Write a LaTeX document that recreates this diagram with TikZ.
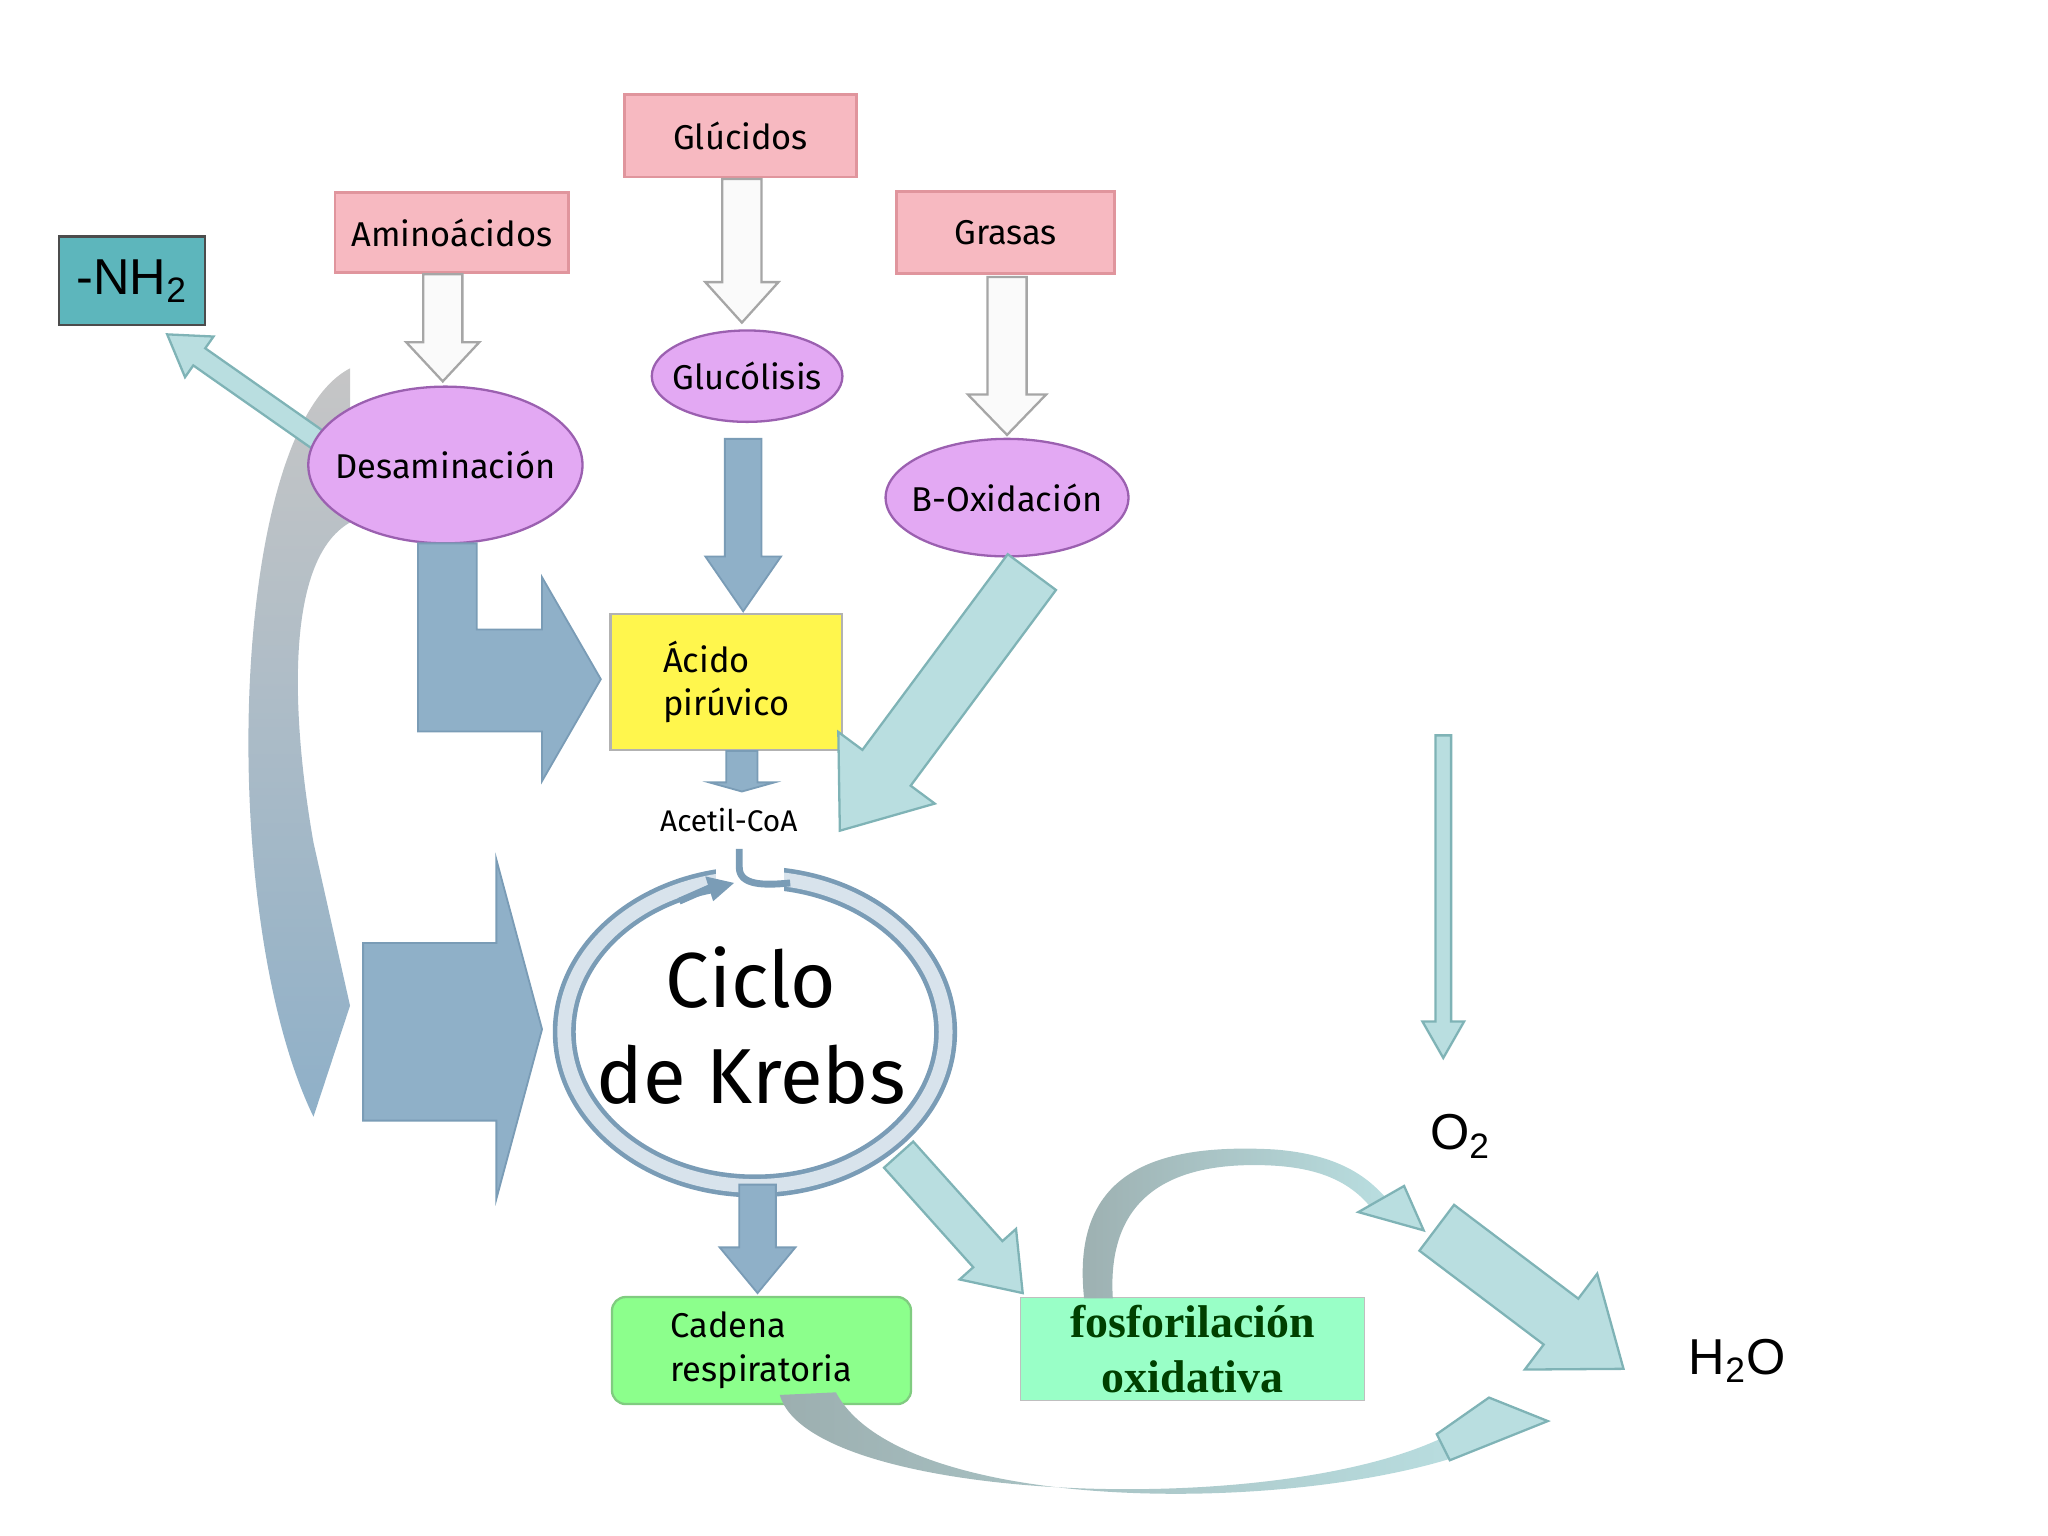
\documentclass[tikz,border=0pt]{standalone}
\usepackage{fontspec}
\setmainfont{Fira Sans}
\newfontfamily\arial{Liberation Sans}
\newfontfamily\tnr{Liberation Serif}
\usetikzlibrary{calc,shapes.geometric,arrows.meta}
\definecolor{pinkf}{HTML}{F7B9C1}\definecolor{pinkd}{HTML}{E0959D}
\definecolor{violf}{HTML}{E3A9F3}\definecolor{viold}{HTML}{9B60B0}
\definecolor{steel}{HTML}{8FB0C8}\definecolor{steeld}{HTML}{7A9CB6}
\definecolor{lcyan}{HTML}{B9DEE0}\definecolor{lcyand}{HTML}{7FB3B6}
\definecolor{teal1}{HTML}{5DB6BC}
\newcommand\farrow[6]{%
 \coordinate (fa-h) at ($(#3)!#6!(#2)$);
 \draw[#1] ($(#2)!#4!90:(#3)$) -- ($(fa-h)!#4!90:(#3)$) -- ($(fa-h)!#5!90:(#3)$) -- (#3)
  -- ($(fa-h)!#5!-90:(#3)$) -- ($(fa-h)!#4!-90:(#3)$) -- ($(#2)!#4!-90:(#3)$) -- cycle;}
\tikzset{
 lbl/.style={font=\fontsize{15}{19}\selectfont},
 pbox/.style={lbl,draw=pinkd,fill=pinkf,line width=1.2pt,inner sep=0pt},
 vell/.style={lbl,ellipse,draw=viold,fill=violf,line width=1pt,inner sep=0pt},
 hollow/.style={draw=gray!70,fill=white!96!gray,line width=1pt},
 blue/.style={draw=steeld,fill=steel,line width=0.8pt},
 cyan/.style={draw=lcyand,fill=lcyan,line width=1pt},
}
\begin{document}
\begin{tikzpicture}[x=0.02cm,y=-0.02cm]
\useasboundingbox (0,0) rectangle (1568,1176);
% curved arrow on the left (behind)
\shade[top color=gray!45,bottom color=steel] (268,282) .. controls (175,330) and (165,700) .. (240,855) -- (268,770) -- (240,645) .. controls (225,560) and (215,430) .. (268,400) -- cycle;
\coordinate (g1) at (255,345); \coordinate (g2) at (128,256);
\farrow{cyan}{g1}{g2}{0.16cm}{0.38cm}{0.6cm}
% nodes
\node[draw=black!70,fill=teal1,line width=1pt,minimum width=2.24cm,minimum height=1.36cm,font=\arial\fontsize{22}{24}\selectfont] (nh) at (101,215) {-NH\textsubscript{2}};
\node[pbox,minimum width=3.58cm,minimum height=1.22cm] (ami) at (346,178) {Aminoácidos};
\node[pbox,minimum width=3.56cm,minimum height=1.26cm] (glu) at (567,104) {Glúcidos};
\node[pbox,minimum width=3.34cm,minimum height=1.26cm] (gra) at (770,178) {Grasas};
\node[vell,minimum width=2.92cm,minimum height=1.4cm,inner xsep=-4pt] (glc) at (572,288) {Glucólisis};
\node[vell,minimum width=4.2cm,minimum height=2.4cm,inner xsep=-14pt] (des) at (341,356) {Desaminación};
\node[vell,minimum width=3.72cm,minimum height=1.8cm,inner xsep=-8pt] (box) at (771,381) {B-Oxidación};
\node[lbl,draw=gray!60,fill=yellow!70!white,line width=1pt,minimum width=3.54cm,minimum height=2.08cm,align=left] (aci) at (556,522) {Ácido\\ pirúvico};
\node[font=\fontsize{13}{15}\selectfont] (ace) at (558,628) {Acetil-CoA};
\node[lbl,draw=green!60!black!50,fill=green!45!white,rounded corners=6pt,line width=1pt,minimum width=4.58cm,minimum height=1.64cm,align=left] (cad) at (583,1034) {Cadena\\ respiratoria};
\node[draw=gray!50,fill=green!55!cyan!40!white,minimum width=5.26cm,minimum height=1.5cm,align=center,font=\tnr\bfseries\fontsize{20}{24}\selectfont,text=green!25!black] (fos) at (913,1033) {fosforilación\\ oxidativa};
\node[font=\arial\fontsize{22}{24}\selectfont] (o2) at (1118,870) {O\textsubscript{2}};
\node[font=\arial\fontsize{22}{24}\selectfont] (h2o) at (1330,1042) {H\textsubscript{2}O};
% Krebs ring
\draw[steeld,line width=10pt] (578,790) ellipse (146 and 118);
\draw[steel!35!white,line width=6pt] (578,790) ellipse (146 and 118);
\fill[white] (548,660) rectangle (600,684);
\draw[steeld,line width=3pt] (566,650) -- (566,664) .. controls (566,678) and (585,678) .. (605,676);
\draw[steeld,line width=3pt] (520,690) -- (545,679);
\fill[steeld] (540,671) -- (562,676) -- (546,690) -- cycle;
\node[font=\fontsize{34}{42}\selectfont,align=center] (kre) at (575,785) {Ciclo\\ de Krebs};
% straight fat arrows
\coordinate (a1) at (339,210); \coordinate (a2) at (339,292);
\farrow{hollow}{a1}{a2}{0.3cm}{0.56cm}{0.6cm}
\coordinate (b1) at (568,137); \coordinate (b2) at (568,247);
\farrow{hollow}{b1}{b2}{0.3cm}{0.56cm}{0.62cm}
\coordinate (c1) at (771,212); \coordinate (c2) at (771,333);
\farrow{hollow}{c1}{c2}{0.3cm}{0.6cm}{0.62cm}
\coordinate (d1) at (569,336); \coordinate (d2) at (569,468);
\farrow{blue}{d1}{d2}{0.28cm}{0.58cm}{0.84cm}
\coordinate (e1) at (568,575); \coordinate (e2) at (568,606);
\farrow{blue}{e1}{e2}{0.24cm}{0.5cm}{0.14cm}
\coordinate (f1) at (790,438); \coordinate (f2) at (643,636);
\farrow{cyan}{f1}{f2}{0.46cm}{0.92cm}{1.2cm}
\coordinate (h1) at (580,907); \coordinate (h2) at (580,990);
\farrow{blue}{h1}{h2}{0.28cm}{0.58cm}{0.7cm}
\coordinate (i1) at (688,884); \coordinate (i2) at (783,990);
\farrow{cyan}{i1}{i2}{0.3cm}{0.58cm}{0.8cm}
\coordinate (j1) at (1105,563); \coordinate (j2) at (1105,810);
\farrow{cyan}{j1}{j2}{0.12cm}{0.32cm}{0.56cm}
\coordinate (k1) at (1100,940); \coordinate (k2) at (1243,1048);
\farrow{cyan}{k1}{k2}{0.44cm}{0.92cm}{1.2cm}
% L-shaped arrow from Desaminacion to Acido
\draw[blue] (320,416) -- (365,416) -- (365,482) -- (415,482) -- (415,442) -- (460,520) -- (415,598) -- (415,560) -- (320,560) -- cycle;
% big arrow into Krebs
\draw[blue] (278,722) -- (380,722) -- (380,658) -- (415,788) -- (380,918) -- (380,858) -- (278,858) -- cycle;
% curved arrow fosforilacion -> O2
\shade[left color=lcyan!50!gray,right color=lcyan] (830,994) .. controls (820,900) and (880,875) .. (975,880) .. controls (1030,884) and (1050,905) .. (1062,918) -- (1050,925) .. controls (1030,900) and (1000,892) .. (960,892) .. controls (880,892) and (848,930) .. (852,994) -- cycle;
\draw[cyan] (1040,928) -- (1075,908) -- (1090,942) -- cycle;
% bottom curved arrow cadena -> H2O
\shade[left color=lcyan!50!gray,right color=lcyan] (597,1068) .. controls (620,1150) and (980,1165) .. (1110,1098) -- (1125,1112) .. controls (990,1160) and (690,1160) .. (640,1066) -- cycle;
\draw[cyan] (1100,1098) -- (1140,1070) -- (1185,1088) -- (1110,1118) -- cycle;
\end{tikzpicture}
\end{document}
